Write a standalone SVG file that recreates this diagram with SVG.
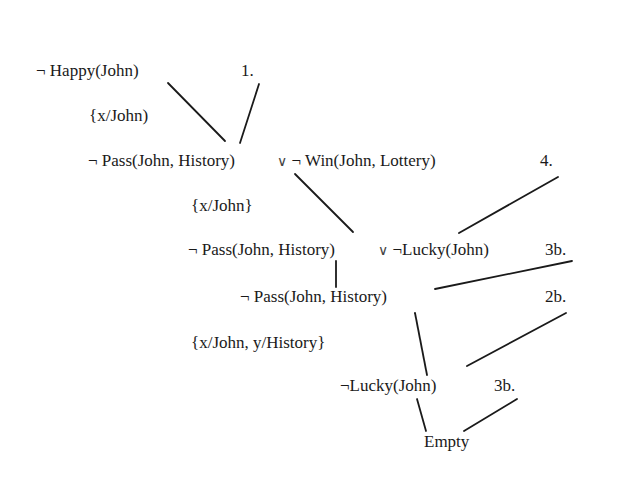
<svg xmlns="http://www.w3.org/2000/svg" width="638" height="478" viewBox="0 0 638 478">
<style>
text{font-family:'Liberation Serif','Times New Roman',serif;font-size:17px;fill:#1a1a1a}
.v{font-family:'DejaVu Sans',sans-serif;font-size:14px;fill:#444}
.c line{stroke:#1a1a1a;stroke-width:1.8;stroke-linecap:round}
</style>
<rect width="638" height="478" fill="#fff"/>
<g id="n1"><text x="36" y="76">¬ Happy(John)</text></g>
<g id="l1"><text x="241" y="76">1.</text></g>
<g id="s1"><text x="89" y="121">{x/John)</text></g>
<g id="n2"><text x="88" y="166">¬ Pass(John, History)</text></g>
<g id="n2b"><text x="277" y="166"><tspan class="v">∨</tspan> ¬ Win(John, Lottery)</text></g>
<g id="l4"><text x="540" y="166">4.</text></g>
<g id="s2"><text x="191" y="211">{x/John}</text></g>
<g id="n3"><text x="188" y="255">¬ Pass(John, History)</text></g>
<g id="n3b"><text x="378" y="255"><tspan class="v">∨</tspan> ¬Lucky(John)</text></g>
<g id="l3b"><text x="545" y="255">3b.</text></g>
<g id="n4"><text x="240" y="302">¬ Pass(John, History)</text></g>
<g id="l2b"><text x="545" y="302">2b.</text></g>
<g id="s3"><text x="191" y="348">{x/John, y/History}</text></g>
<g id="n5"><text x="340" y="391">¬Lucky(John)</text></g>
<g id="l3b2"><text x="494" y="391">3b.</text></g>
<g id="n6"><text x="424" y="447">Empty</text></g>
<g class="c" id="connectors">
<line x1="168" y1="83" x2="225" y2="141"/>
<line x1="259" y1="84" x2="240" y2="143"/>
<line x1="295" y1="174" x2="353" y2="232"/>
<line x1="558" y1="177" x2="459" y2="233"/>
<line x1="336" y1="261" x2="336" y2="287"/>
<line x1="572" y1="261" x2="435" y2="289"/>
<line x1="415" y1="313" x2="427" y2="375"/>
<line x1="566" y1="313" x2="467" y2="366"/>
<line x1="417" y1="399" x2="426" y2="431"/>
<line x1="517" y1="399" x2="464" y2="431"/>
</g>
</svg>
